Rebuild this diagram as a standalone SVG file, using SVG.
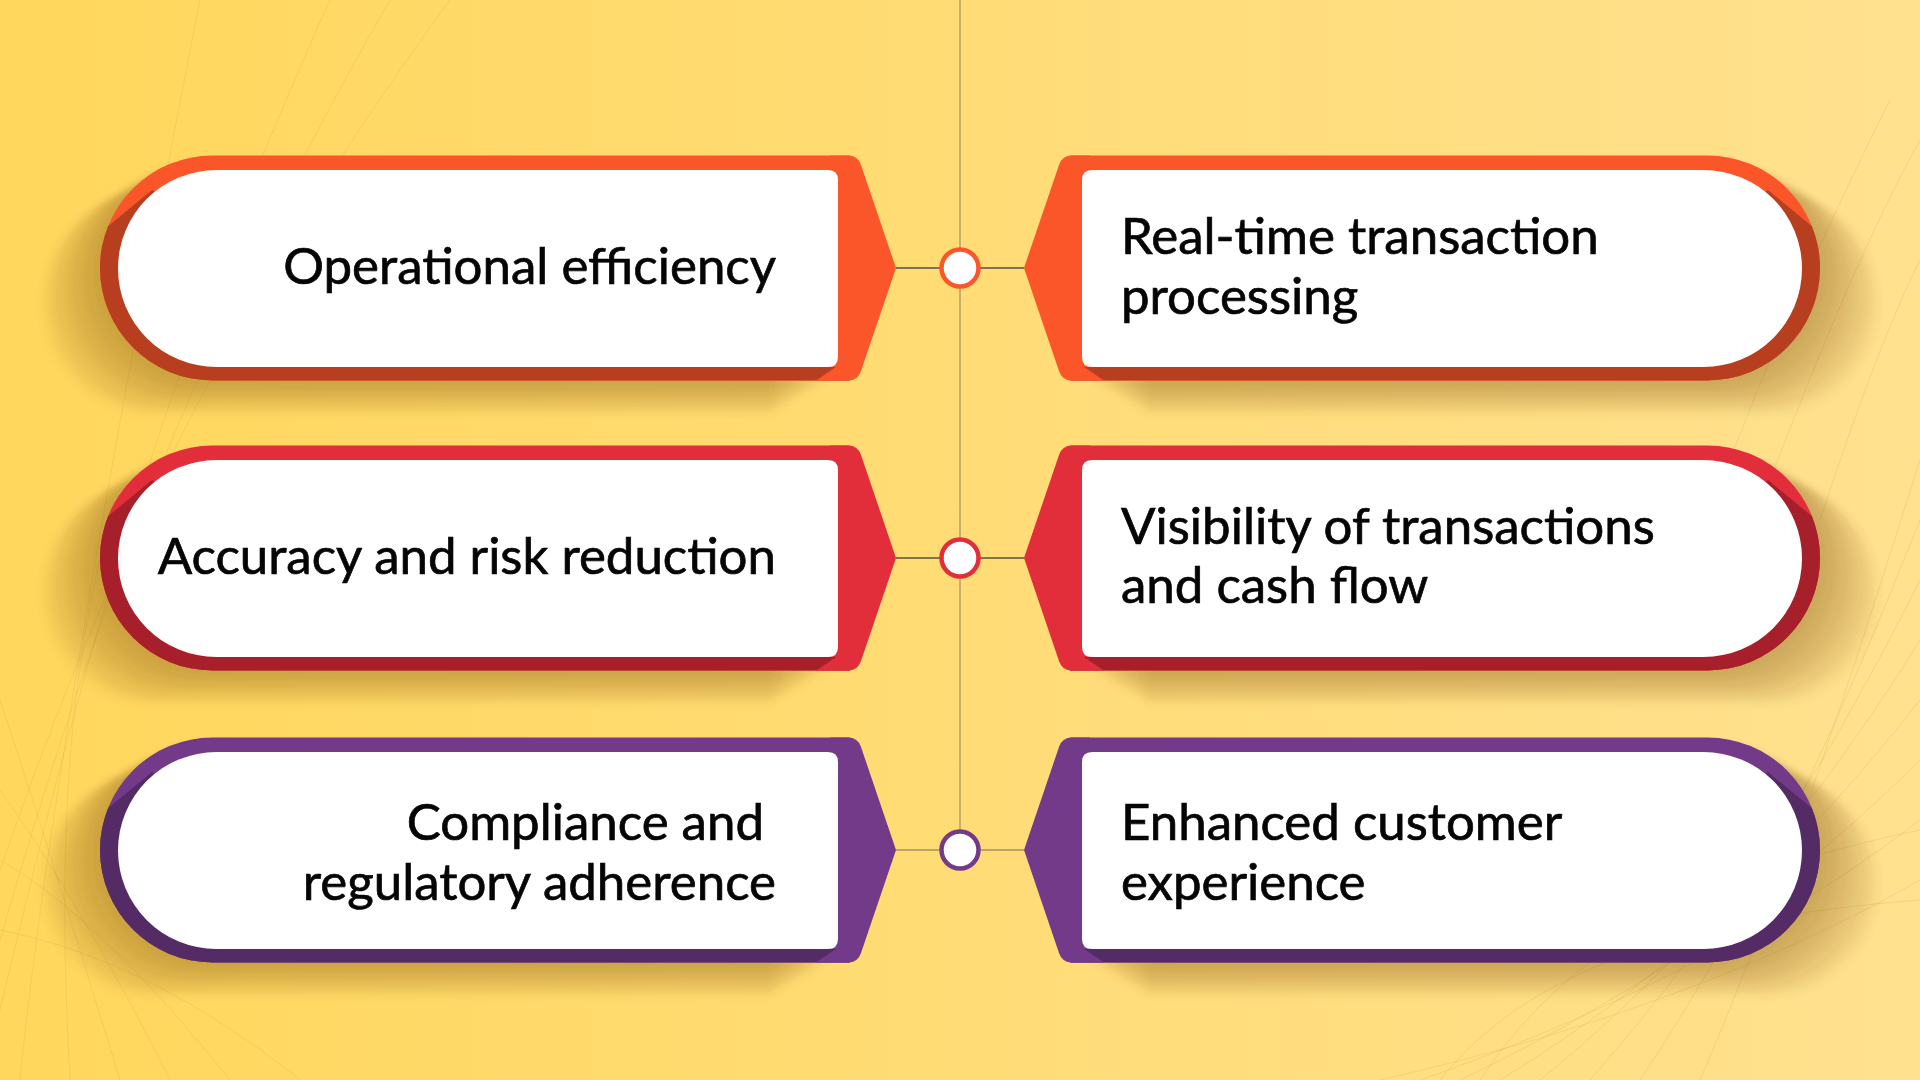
<svg xmlns="http://www.w3.org/2000/svg" xmlns:xlink="http://www.w3.org/1999/xlink" width="1920" height="1080" viewBox="0 0 1920 1080">
  <style>
    .lbl { font-family: Lato, "Liberation Sans", sans-serif; font-size: 51px; fill: #050505; stroke: #050505; stroke-width: 0.7px; }
    .bgl { fill: none; stroke: #D8B24E; stroke-width: 1; opacity: 0.3; }
    .junction { fill: #ffffff; stroke-width: 4.5; }
    .hline { stroke-width: 1.6; fill: none; }
  </style>
  <defs>
    <linearGradient id="bg" x1="0" y1="0" x2="1" y2="0">
      <stop offset="0" stop-color="#FFD75C"/>
      <stop offset="1" stop-color="#FFE18F"/>
    </linearGradient>
    <filter id="soft" x="-20%" y="-30%" width="140%" height="160%">
      <feGaussianBlur stdDeviation="3"/>
    </filter>
    <path id="body" d="M212.5,-112.5 H850 V112.5 H212.5 A112.5,112.5 0 0 1 212.5,-112.5 Z"/>
    <path id="shadowSrc" d="M212.5,-112.5 H832 V112.5 H212.5 A112.5,112.5 0 0 1 212.5,-112.5 Z"/>
    <clipPath id="bodyClip">
      <use xlink:href="#body"/>
    </clipPath>
    <!-- node shape: fill = light colour (inherited), currentColor = dark colour -->
    <g id="nodeShape">
      <g filter="url(#soft)" fill="#6A4700">
        <use xlink:href="#shadowSrc" transform="translate(-6,3.5)" fill-opacity="0.045"/>
        <use xlink:href="#shadowSrc" transform="translate(-12,7)" fill-opacity="0.045"/>
        <use xlink:href="#shadowSrc" transform="translate(-18,10.5)" fill-opacity="0.045"/>
        <use xlink:href="#shadowSrc" transform="translate(-24,14)" fill-opacity="0.045"/>
        <use xlink:href="#shadowSrc" transform="translate(-30,17.5)" fill-opacity="0.045"/>
        <use xlink:href="#shadowSrc" transform="translate(-36,21)" fill-opacity="0.045"/>
        <use xlink:href="#shadowSrc" transform="translate(-42,24.5)" fill-opacity="0.045"/>
        <use xlink:href="#shadowSrc" transform="translate(-48,28)" fill-opacity="0.045"/>
        <use xlink:href="#shadowSrc" transform="translate(-54,31.5)" fill-opacity="0.045"/>
        <use xlink:href="#shadowSrc" transform="translate(-60,35)" fill-opacity="0.045"/>
      </g>
      <use xlink:href="#body"/>
      <polygon clip-path="url(#bodyClip)" fill="currentColor" points="0,48 112,-45 152,-78 262,-8 262,99 900,99 900,130 0,130"/>
      <path d="M830,-112.5 H848 Q858,-112.5 861,-103 L896,0 L861,103 Q858,112.5 848,112.5 H816 L836,99 L836,-100 Z"/>
      <path fill="#ffffff" d="M216.5,-98 H828 Q838,-98 838,-88 V89 Q838,99 828,99 H216.5 A98.5,98.5 0 0 1 216.5,-98 Z"/>
    </g>
  </defs>

  <!-- background -->
  <rect x="0" y="0" width="1920" height="1080" fill="url(#bg)"/>
  <g id="background-lines">
    <path class="bgl" d="M0,1010 C60,760 140,420 330,0"/>
    <path class="bgl" d="M0,940 C70,700 170,380 390,0"/>
    <path class="bgl" d="M0,870 C80,640 200,340 450,0"/>
    <path class="bgl" d="M20,1080 C40,880 90,560 200,0"/>
    <path class="bgl" d="M70,1080 C60,900 60,700 110,520"/>
    <path class="bgl" d="M120,1080 C80,950 40,820 0,700"/>
    <path class="bgl" d="M170,1080 C110,960 50,860 0,790"/>
    <path class="bgl" d="M230,1080 C150,980 70,900 0,860"/>
    <path class="bgl" d="M300,1080 C200,1000 100,950 0,930"/>
    <path class="bgl" d="M1380,1080 C1600,1030 1780,960 1920,880"/>
    <path class="bgl" d="M1420,1080 C1620,1010 1790,920 1920,820"/>
    <path class="bgl" d="M1460,1080 C1650,990 1800,880 1920,760"/>
    <path class="bgl" d="M1500,1080 C1680,970 1810,840 1920,700"/>
    <path class="bgl" d="M1540,1080 C1700,950 1820,800 1920,640"/>
    <path class="bgl" d="M1590,1080 C1730,920 1830,760 1920,580"/>
    <path class="bgl" d="M1640,1080 C1760,900 1840,720 1920,520"/>
    <path class="bgl" d="M1700,1080 C1790,870 1850,680 1920,460"/>
    <path class="bgl" d="M1730,460 C1780,330 1830,220 1890,100"/>
    <path class="bgl" d="M1770,480 C1820,350 1870,230 1920,140"/>
    <path class="bgl" d="M1820,520 C1860,400 1890,320 1920,260"/>
    <path class="bgl" d="M1480,1080 C1560,960 1680,880 1920,830"/>
    <path class="bgl" d="M1440,1080 C1520,980 1660,920 1920,900"/>
  </g>

  <!-- connectors -->
  <g id="connectors">
    <line x1="960" y1="0" x2="960" y2="850" stroke="#BCA46A" stroke-width="1.6"/>
    <line class="hline" x1="896" y1="268" x2="1024" y2="268" stroke="#505050"/>
    <line class="hline" x1="896" y1="558" x2="1024" y2="558" stroke="#505050"/>
    <line class="hline" x1="896" y1="850" x2="1024" y2="850" stroke="#A09064"/>
    <circle class="junction" cx="960" cy="268" r="18.5" stroke="#FA5629"/>
    <circle class="junction" cx="960" cy="558" r="18.5" stroke="#E22D3A"/>
    <circle class="junction" cx="960" cy="850" r="18.5" stroke="#743A8A"/>
  </g>

  <!-- nodes -->
  <g id="node-operational-efficiency">
    <use xlink:href="#nodeShape" transform="translate(0,268)" fill="#FA5629" color="#B83E20"/>
    <text class="lbl" x="776" y="284" text-anchor="end">Operational efficiency</text>
  </g>
  <g id="node-real-time-processing">
    <use xlink:href="#nodeShape" transform="translate(1920,268) scale(-1,1)" fill="#FA5629" color="#B83E20"/>
    <text class="lbl" x="1121" y="254">Real-time transaction</text>
    <text class="lbl" x="1121" y="314">processing</text>
  </g>
  <g id="node-accuracy-risk">
    <use xlink:href="#nodeShape" transform="translate(0,558)" fill="#E22D3A" color="#A61F2B"/>
    <text class="lbl" x="776" y="574" text-anchor="end">Accuracy and risk reduction</text>
  </g>
  <g id="node-visibility">
    <use xlink:href="#nodeShape" transform="translate(1920,558) scale(-1,1)" fill="#E22D3A" color="#A61F2B"/>
    <text class="lbl" x="1121" y="544">Visibility of transactions</text>
    <text class="lbl" x="1121" y="603">and cash flow</text>
  </g>
  <g id="node-compliance">
    <use xlink:href="#nodeShape" transform="translate(0,850)" fill="#743A8A" color="#552B66"/>
    <text class="lbl" x="764" y="840" text-anchor="end">Compliance and</text>
    <text class="lbl" x="776" y="900" text-anchor="end">regulatory adherence</text>
  </g>
  <g id="node-customer-experience">
    <use xlink:href="#nodeShape" transform="translate(1920,850) scale(-1,1)" fill="#743A8A" color="#552B66"/>
    <text class="lbl" x="1121" y="840">Enhanced customer</text>
    <text class="lbl" x="1121" y="900">experience</text>
  </g>
</svg>
